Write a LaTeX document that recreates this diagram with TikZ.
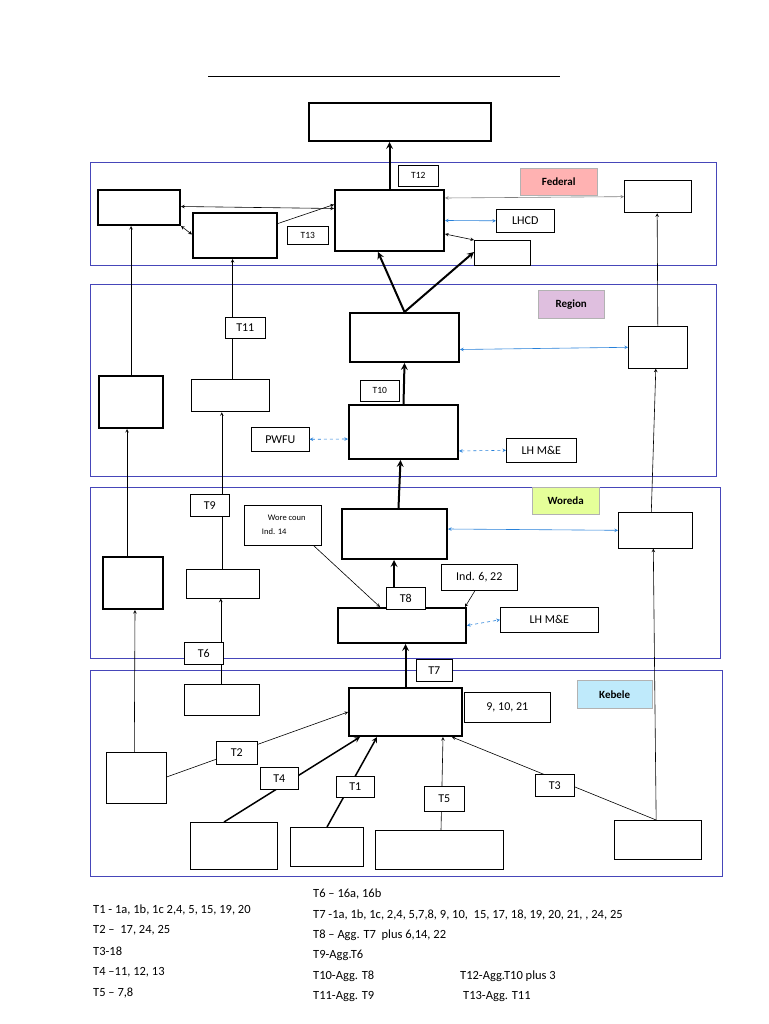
\documentclass[tikz,border=0pt]{standalone}
\usepackage{fontspec}
\setmainfont{Carlito}
\usetikzlibrary{calc}
\tikzset{
  box/.style={draw, line width=0.6pt, fill=white, inner sep=0pt, anchor=north west, font=\fontsize{12}{13}\selectfont},
  bbox/.style={box, line width=2pt},
  tag/.style={box, font=\fontsize{9.5}{10}\selectfont},
  band/.style={draw=blue!45!gray, line width=0.7pt},
  lvl/.style={draw=gray!60, inner sep=0pt, anchor=north west, font=\fontsize{11}{12}\selectfont\bfseries},
  thin/.style={line width=0.6pt, -stealth},
  thick/.style={line width=2pt, -stealth},
  link/.style={line width=0.6pt, stealth-stealth},
  blink/.style={line width=0.6pt, blue!50!cyan!70!gray, stealth-stealth},
  dlink/.style={blink, dashed},
}
\begin{document}
\begin{tikzpicture}[x=1pt,y=-1pt]
\useasboundingbox (0,0) rectangle (768,1024);
% bands
\draw[band] (90,162) rectangle (716,265);
\draw[band] (90,284) rectangle (716,476);
\draw[band] (90,487) rectangle (720,658);
\draw[band] (90,670) rectangle (722,876);
\draw[line width=1pt] (208,77) -- (560,77);
% level labels
\node[lvl, fill=red!30, minimum width=77, minimum height=27] (fed) at (520,168) {Federal};
\node[lvl, fill=violet!25, minimum width=66, minimum height=28] (reg) at (538,290) {Region};
\node[lvl, fill=green!25!yellow!40, minimum width=67, minimum height=27] (wor) at (532,487) {Woreda};
\node[lvl, fill=cyan!25, minimum width=75, minimum height=28] (keb) at (577,680) {Kebele};
% federal
\node[bbox, minimum width=182, minimum height=38] (top) at (308,102) {};
\node[bbox, minimum width=82, minimum height=35] (A) at (97,189) {};
\node[bbox, minimum width=84, minimum height=45] (B) at (192,212) {};
\node[bbox, minimum width=109, minimum height=61] (C) at (334,189) {};
\node[box, minimum width=56, minimum height=25] (D) at (474,240) {};
\node[box, line width=1.3pt, minimum width=67, minimum height=32] (E) at (624,180) {};
% region
\node[bbox, minimum width=109, minimum height=49] (F) at (349,312) {};
\node[box, minimum width=59, minimum height=42] (G) at (628,326) {};
\node[bbox, minimum width=64, minimum height=52] (H) at (98,375) {};
\node[box, line width=1.2pt, minimum width=78, minimum height=32] (I) at (191,379) {};
\node[bbox, minimum width=109, minimum height=54] (J) at (348,404) {};
% woreda
\node[bbox, minimum width=105, minimum height=50] (K) at (341,508) {};
\node[box, minimum width=74, minimum height=36] (L) at (618,512) {};
\node[bbox, minimum width=60, minimum height=52] (M) at (102,556) {};
\node[box, minimum width=73, minimum height=29] (N) at (186,569) {};
\node[bbox, minimum width=128, minimum height=35] (O) at (337,607) {};
% kebele
\node[bbox, minimum width=113, minimum height=48] (P) at (348,687) {};
\node[box, minimum width=75, minimum height=31] (Q) at (184,684) {};
\node[box, minimum width=60, minimum height=51] (R) at (106,752) {};
\node[box, minimum width=87, minimum height=47] (S) at (190,822) {};
\node[box, minimum width=73, minimum height=39] (U) at (290,827) {};
\node[box, minimum width=128, minimum height=39] (V) at (375,830) {};
\node[box, line width=1.3pt, minimum width=87, minimum height=39] (W) at (614,820) {};
% connectors
\draw[thick] (C.north) -- (C.north |- top.south);
\draw[thick] (F.north) -- ([xshift=44]C.south west);
\draw[thick] (F.north) -- (D.west |- C.south);
\draw[thick] (J.north) -- (F.south);
\draw[thick] ([xshift=4]K.north) -- ([xshift=-3]J.south);
\draw[thick] ([xshift=-8]O.north) -- ([xshift=-8]O.north |- K.south);
\draw[thick] (P.north) -- (P.north |- O.south);
\draw[link] ([yshift=1]A.east) -- ([yshift=12]C.west);
\draw[thin] ([yshift=12]B.east) -- ([yshift=16]C.west);
\draw[link] (A.south east) -- ([yshift=1]B.west);
\draw[link, gray] ([yshift=-9]C.north east) -- (E.west);
\draw[link] ([yshift=18]C.south east) -- (D.north west);
\draw[thin] (H.north) -- (H.north |- A.south);
\draw[thin] ([xshift=2]I.north) -- ([xshift=2]I.north |- B.south);
\draw[thin] (G.north) -- ([xshift=-1]E.south);
\draw[thin] ([xshift=-6]M.north) -- ([xshift=-6]M.north |- H.south);
\draw[thin] ([xshift=-1]N.north) -- ([xshift=-1]N.north |- I.south);
\draw[thin] ([xshift=-4]L.north) -- ([xshift=-2]G.south);
\draw[thin] ([xshift=-1]Q.north) -- ([xshift=-1]Q.north |- N.south);
\draw[thin] ([xshift=-2]R.north) -- ([xshift=2]M.south);
\draw[thin] ([xshift=-2]W.north) -- ([xshift=-2]L.south);
\draw[thin] ([yshift=-25]R.north east) -- ([yshift=-25]P.north west);
\draw[line width=1.5pt, -stealth] ([xshift=34]S.north west) -- ([xshift=12]P.south west);
\draw[line width=1.5pt, -stealth] ([xshift=37]U.north west) -- ([xshift=29]P.south west);
\draw[thin] ([xshift=66]V.north west) -- ([xshift=-20]P.south east);
\draw[thin] ([xshift=-2]W.north) -- ([xshift=-11]P.south east);
% tags
\node[tag, minimum width=40, minimum height=21] (t12) at (398,165) {T12};
\node[tag, minimum width=41, minimum height=18] (t13) at (287,226) {T13};
\node[box, minimum width=58, minimum height=23] (lhcd) at (496,209) {LHCD};
\draw[blink] (C.east) -- (lhcd.west);
\node[box, minimum width=40, minimum height=21] (t11) at (225,317) {T11};
\node[tag, minimum width=39, minimum height=21] (t10) at (360,380) {T10};
\node[box, minimum width=58, minimum height=24] (pwfu) at (251,427) {PWFU};
\node[box, minimum width=70, minimum height=24] (lh1) at (506,438) {LH M\&E};
\draw[blink] ([yshift=-12]F.east) -- (G.west);
\draw[dlink] (pwfu.east) -- ([yshift=-7]J.west);
\draw[dlink] ([yshift=-19]J.east) -- (lh1.west);
\node[box, minimum width=39, minimum height=22] (t9) at (190,494) {T9};
\node[box, align=left, minimum width=77, minimum height=40, font=\fontsize{8.5}{14}\selectfont] (wc) at (244,505) {\hspace{8pt}Wore coun\\\hspace{2pt}Ind. 14};
\node[box, minimum width=76, minimum height=26] (ind) at (441,564) {Ind. 6, 22};
\node[box, minimum width=98, minimum height=25] (lh2) at (500,607) {LH M\&E};
\node[box, minimum width=39, minimum height=22] (t6) at (184,642) {T6};
\draw[blink] ([yshift=5]K.east) -- (L.west);
\draw[thin] ([xshift=-8]wc.south east) -- ([xshift=43]O.north west);
\draw[thin] ([xshift=34]ind.south west) -- ([xshift=-2]O.north east);
\draw[dlink] (O.east) -- (lh2.west);
\node[box, minimum width=39, minimum height=22] (t8) at (386,587) {T8};
\node[box, minimum width=36, minimum height=22] (t7) at (416,659) {T7};
\node[box, minimum width=86, minimum height=30] (n9) at (464,692) {9, 10, 21};
\node[box, minimum width=41, minimum height=23] (t2) at (216,741) {T2};
\node[box, minimum width=38, minimum height=22] (t4) at (260,767) {T4};
\node[box, minimum width=38, minimum height=21] (t1) at (336,776) {T1};
\node[box, minimum width=40, minimum height=25] (t5) at (424,786) {T5};
\node[box, minimum width=39, minimum height=22] (t3) at (535,774) {T3};
% legend
\begin{scope}[every node/.style={anchor=west, inner sep=0pt, font=\fontsize{12.5}{13}\selectfont}]
\node (l1) at (93,910) {T1 - 1a, 1b, 1c 2,4, 5, 15, 19, 20};
\node (l2) at (93,930) {T2 --\ \ 17, 24, 25};
\node (l3) at (93,951) {T3-18};
\node (l4) at (93,972) {T4 --11, 12, 13};
\node (l5) at (93,993) {T5 -- 7,8};
\node (l6) at (313,894) {T6 -- 16a, 16b};
\node (l7) at (313,915) {T7 -1a, 1b, 1c, 2,4, 5,7,8, 9, 10,\ \ 15, 17, 18, 19, 20, 21, , 24, 25};
\node (l8) at (313,935) {T8 -- Agg. T7\ \ plus 6,14, 22};
\node (l9) at (313,955) {T9-Agg.T6};
\node (l10) at (313,976) {T10-Agg. T8};
\node (l11) at (313,997) {T11-Agg. T9};
\node (l12) at (460,976) {T12-Agg.T10 plus 3};
\node (l13) at (463,997) {T13-Agg. T11};
\end{scope}
\end{tikzpicture}
\end{document}
